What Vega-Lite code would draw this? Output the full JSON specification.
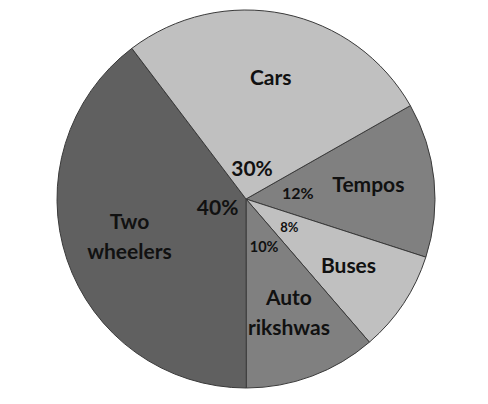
{
  "$schema": "https://vega.github.io/schema/vega-lite/v6.json",
  "width": 488,
  "height": 404,
  "autosize": {"type": "fit", "contains": "padding"},
  "padding": {"left": 4, "top": 0, "right": 0, "bottom": 6},
  "background": "white",
  "data": {
    "values": [
      {"seq": 1, "name": "Tempos", "label": "Tempos", "pct": 12, "pctText": "12%", "share": 13.2},
      {"seq": 2, "name": "Buses", "label": "Buses", "pct": 8, "pctText": "8%", "share": 8.7},
      {"seq": 3, "name": "Auto rikshwas", "label": "Auto\nrikshwas", "pct": 10, "pctText": "10%", "share": 11.3},
      {"seq": 4, "name": "Two wheelers", "label": "Two\nwheelers", "pct": 40, "pctText": "40%", "share": 39.7},
      {"seq": 5, "name": "Cars", "label": "Cars", "pct": 30, "pctText": "30%", "share": 27.1}
    ]
  },
  "encoding": {
    "theta": {
      "field": "share",
      "type": "quantitative",
      "stack": true,
      "scale": {"range": [1.0542, 7.3374]}
    },
    "order": {"field": "seq", "type": "quantitative"}
  },
  "layer": [
    {
      "mark": {"type": "arc", "outerRadius": 189, "stroke": "#3a3a3a", "strokeWidth": 1},
      "encoding": {
        "color": {
          "field": "name",
          "type": "nominal",
          "scale": {
            "domain": ["Tempos", "Buses", "Auto rikshwas", "Two wheelers", "Cars"],
            "range": ["#808080", "#c0c0c0", "#808080", "#606060", "#c0c0c0"]
          },
          "legend": null
        }
      }
    },
    {
      "mark": {
        "type": "text",
        "radius": 123,
        "font": "Lato",
        "fontWeight": "bold",
        "fontSize": 21,
        "color": "#111111"
      },
      "encoding": {
        "detail": {"field": "name", "type": "nominal"},
        "text": {
          "field": "label",
          "type": "nominal",
          "condition": {"test": "indexof(datum.label, '\\n') >= 0", "value": ""}
        }
      }
    },
    {
      "mark": {
        "type": "text",
        "radius": 123,
        "dy": -15,
        "font": "Lato",
        "fontWeight": "bold",
        "fontSize": 21,
        "lineBreak": "\n",
        "lineHeight": 30,
        "color": "#111111"
      },
      "encoding": {
        "detail": {"field": "name", "type": "nominal"},
        "text": {
          "field": "label",
          "type": "nominal",
          "condition": {"test": "indexof(datum.label, '\\n') < 0", "value": ""}
        }
      }
    },
    {
      "mark": {
        "type": "text",
        "radius": 30,
        "font": "Lato",
        "fontWeight": "bold",
        "fontSize": 21,
        "color": "#111111"
      },
      "encoding": {
        "detail": {"field": "name", "type": "nominal"},
        "text": {
          "field": "pctText",
          "type": "nominal",
          "condition": {"test": "datum.pct < 30", "value": ""}
        }
      }
    },
    {
      "mark": {
        "type": "text",
        "radius": 52,
        "font": "Lato",
        "fontWeight": "bold",
        "color": "#111111"
      },
      "encoding": {
        "detail": {"field": "name", "type": "nominal"},
        "size": {
          "field": "pct",
          "type": "quantitative",
          "scale": {"domain": [8, 12], "range": [13, 16], "clamp": true},
          "legend": null
        },
        "text": {
          "field": "pctText",
          "type": "nominal",
          "condition": {"test": "datum.pct >= 30", "value": ""}
        }
      }
    }
  ],
  "config": {
    "view": {"stroke": null}
  }
}
